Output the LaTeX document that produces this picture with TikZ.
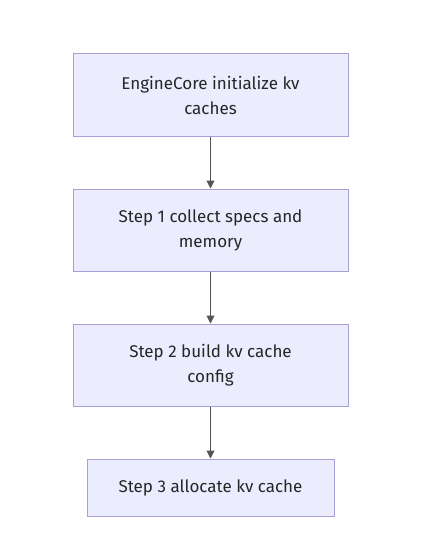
\documentclass[tikz,border=0pt]{standalone}
\usepackage{fontspec}
\setmainfont{Fira Sans}
\usetikzlibrary{arrows.meta}
\definecolor{boxfill}{HTML}{ECECFF}
\definecolor{boxline}{HTML}{A99FD6}
\definecolor{edge}{HTML}{555555}
\begin{document}
\begin{tikzpicture}[x=1pt,y=-1pt,
  stepbox/.style={draw=boxline,fill=boxfill,line width=1pt,align=center,
    font=\fontsize{17}{25}\selectfont,text=black!85,inner sep=0pt},
  flow/.style={draw=edge,line width=1pt,-{Triangle[length=8pt,width=8pt]}}]
\useasboundingbox[fill=white] (0,0) rectangle (444,551);
\node[stepbox,minimum width=275pt,minimum height=82pt] (a) at (210.5,95) {EngineCore initialize kv\\caches};
\node[stepbox,minimum width=275pt,minimum height=82pt] (b) at (210.5,230) {Step 1 collect specs and\\memory};
\node[stepbox,minimum width=275pt,minimum height=82pt] (c) at (210.5,365) {Step 2 build kv cache\\config};
\node[stepbox,minimum width=247pt,minimum height=57pt] (d) at (210.5,487.5) {Step 3 allocate kv cache};
\draw[flow] (a) -- (b);
\draw[flow] (b) -- (c);
\draw[flow] (c) -- (d);
\end{tikzpicture}
\end{document}
